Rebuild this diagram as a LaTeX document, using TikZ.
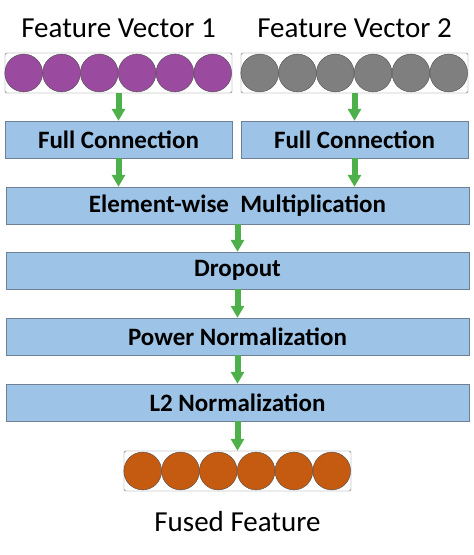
\documentclass[tikz,border=0pt]{standalone}
\usepackage{fontspec}
\setmainfont{Carlito}
\usetikzlibrary{arrows.meta,calc}
\definecolor{layerblue}{HTML}{9DC3E6}
\definecolor{layeredge}{HTML}{6F7F95}
\definecolor{fvpurple}{HTML}{9A4A9F}
\definecolor{fvgray}{HTML}{7F7F7F}
\definecolor{fusedorange}{HTML}{C55A11}
\definecolor{arrowgreen}{HTML}{4DB04A}
\tikzset{
  vecbox/.style={draw=black!60, rounded corners=1.5pt, minimum width=227pt, minimum height=40pt, inner sep=0pt},
  layer/.style={draw=layeredge, fill=layerblue, minimum height=37pt, inner sep=0pt, font=\fontsize{25}{29}\selectfont\bfseries},
  dot/.style={circle, draw=black!70, minimum size=37.8pt, inner sep=0pt},
  flow/.style={draw=arrowgreen, line width=6pt, -{Triangle[width=13pt,length=12pt]}},
  caption/.style={font=\fontsize{29}{33}\selectfont, anchor=base}
}
\begin{document}
\begin{tikzpicture}[x=1pt,y=-1pt]
\useasboundingbox (0,0) rectangle (474,555);
% feature vectors
\node[caption] (t1) at (118.5,37) {Feature Vector 1};
\node[caption] (t2) at (354.5,37) {Feature Vector 2};
\node[vecbox] (fv1) at (118.5,73) {};
\node[vecbox] (fv2) at (354.5,73) {};
\foreach \i in {0,...,5}{
  \node[dot, fill=fvpurple] at ($(fv1.west)+(\i*37.8+18.9,0)$) {};
  \node[dot, fill=fvgray] at ($(fv2.west)+(\i*37.8+18.9,0)$) {};
}
% layers
\node[layer, minimum width=227pt] (fc1) at (118.5,139.5) {Full Connection};
\node[layer, minimum width=227pt] (fc2) at (354.5,139.5) {Full Connection};
\node[layer, minimum width=463pt] (mul) at (237.5,205.5) {Element-wise\ \ Multiplication};
\node[layer, minimum width=463pt] (drop) at (237.5,270.5) {Dropout};
\node[layer, minimum width=463pt] (pow) at (237.5,336.5) {Power Normalization};
\node[layer, minimum width=463pt] (l2) at (237.5,402.5) {L2 Normalization};
% fused feature
\node[vecbox] (fused) at (237.5,471) {};
\foreach \i in {0,...,5}
  \node[dot, fill=fusedorange] at ($(fused.west)+(\i*37.8+18.9,0)$) {};
\node[caption] (t3) at (237.5,531) {Fused Feature};
% arrows
\draw[flow] (fv1.south) -- (fc1.north);
\draw[flow] (fv2.south) -- (fc2.north);
\draw[flow] (fc1.south) -- (fc1.south |- mul.north);
\draw[flow] (fc2.south) -- (fc2.south |- mul.north);
\draw[flow] (mul.south) -- (drop.north);
\draw[flow] (drop.south) -- (pow.north);
\draw[flow] (pow.south) -- (l2.north);
\draw[flow] (l2.south) -- (fused.north);
\end{tikzpicture}
\end{document}
